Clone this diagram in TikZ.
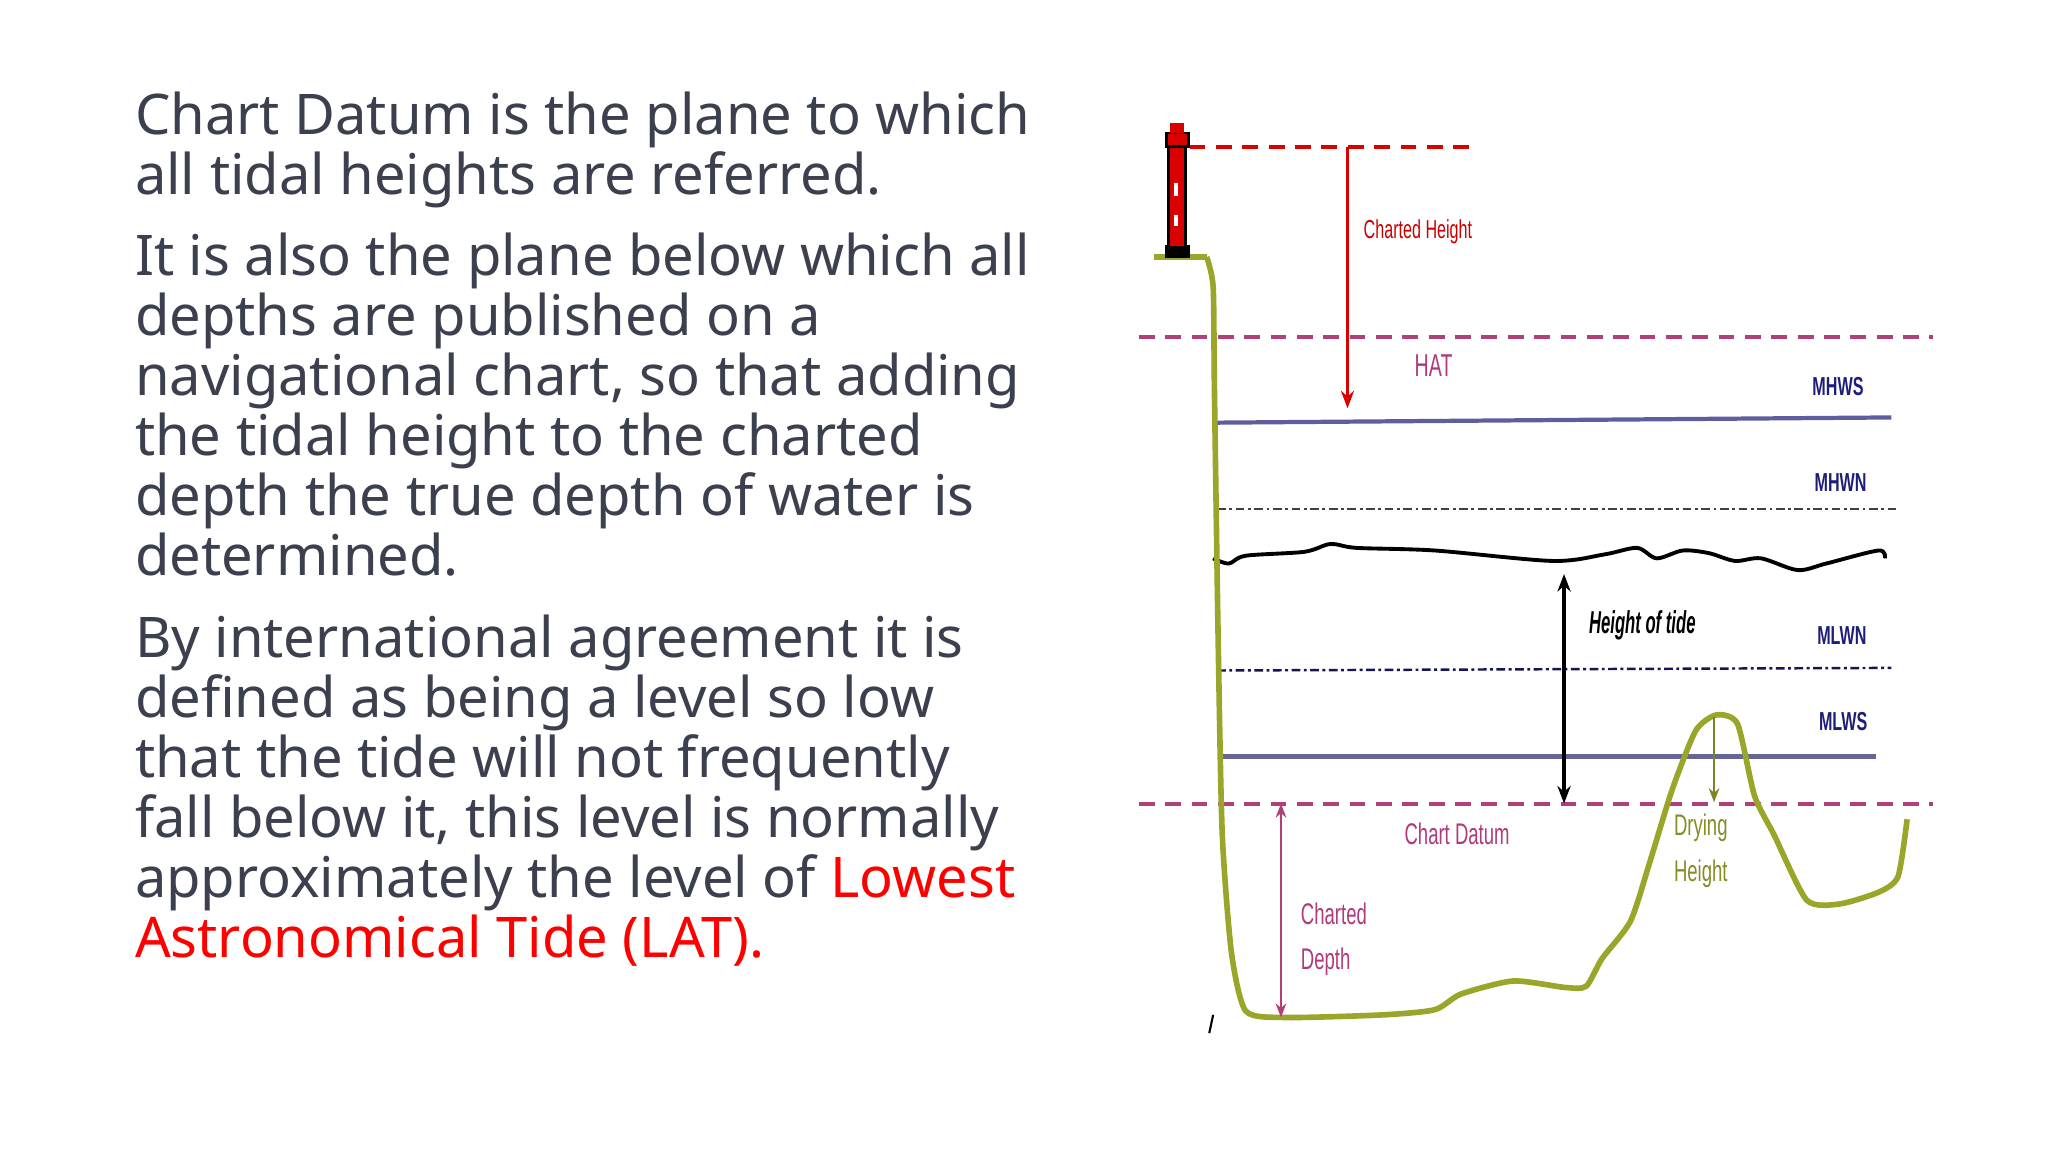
\documentclass[tikz,border=0pt]{standalone}
\usepackage{fontspec}
\setmainfont{Noto Sans}
\newfontfamily\labfont{Liberation Sans}
\usetikzlibrary{arrows.meta}
\definecolor{txt}{HTML}{3B3F4E}
\definecolor{mag}{HTML}{B0407A}
\definecolor{olv}{HTML}{9AA62A}
\definecolor{nav}{HTML}{1E1E78}
\definecolor{lvl}{HTML}{5E5E9E}
\definecolor{lab}{HTML}{B03A7A}
\tikzset{
 para/.style={anchor=base west,align=left,text=txt,inner sep=0pt,font=\fontsize{15.95}{17.08}\selectfont},
 lbl/.style={font=\labfont\fontsize{7.4}{9.5}\selectfont,transform shape,xscale=0.62,inner sep=0pt},
 blbl/.style={lbl,font=\labfont\bfseries\fontsize{7.4}{9.5}\selectfont,text=nav},
 dline/.style={mag,line width=1.1pt,dash pattern=on 4.5pt off 3pt},
 ddot/.style={line width=0.7pt,dash pattern=on 2.5pt off 1pt on 0.8pt off 1pt},
}
\begin{document}
\begin{tikzpicture}[x=0.013045cm,y=-0.013045cm]
\useasboundingbox[fill=white] (0,0) rectangle (1570,883);
% text
\node[para] (p1) at (103,149) {Chart Datum is the plane to which\\all tidal heights are referred.};
\node[para] (p2) at (103,441) {It is also the plane below which all\\depths are published on a\\navigational chart, so that adding\\the tidal height to the charted\\depth the true depth of water is\\determined.};
\node[para] (p3) at (103,734) {By international agreement it is\\defined as being a level so low\\that the tide will not frequently\\fall below it, this level is normally\\approximately the level of \textcolor{red}{Lowest}\\\textcolor{red}{Astronomical Tide (LAT).}};
% levels
\coordinate (tl) at (912,113); \coordinate (tr) at (1128,113);
\draw[red!85!black,line width=1.1pt,dash pattern=on 4.5pt off 3pt] (tl) -- (tr);
\coordinate (hl) at (873,258); \coordinate (hr) at (1482,258);
\draw[dline] (hl) -- (hr);
\coordinate (cl) at (873,616); \coordinate (cr) at (1482,616);
\draw[dline] (cl) -- (cr);
\coordinate (s1) at (933,324); \coordinate (s2) at (1450,320);
\draw[lvl,line width=1.2pt] (s1) -- (s2);
\coordinate (n1) at (933,390); \coordinate (n2) at (1455,390);
\draw[ddot,black!75] (n1) -- (n2);
\coordinate (w1) at (933,514); \coordinate (w2) at (1450,512);
\draw[ddot,nav!70!black] (w1) -- (w2);
\coordinate (m1) at (937,580); \coordinate (m2) at (1438,580);
\draw[lvl!80!gray,line width=1.2pt] (m1) -- (m2);
% water surface
\draw[black,line width=1.1pt] plot[smooth,tension=0.5] coordinates {(930,428) (942,432) (955,426) (1000,423) (1020,417) (1040,420) (1100,422) (1190,430) (1230,425) (1255,420) (1270,428) (1290,422) (1310,424) (1330,430) (1350,428) (1378,437) (1400,432) (1440,422) (1445,428)};
% seabed
\draw[olv,line width=1.6pt] plot[smooth,tension=0.4] coordinates {(925,197) (930,220) (931,300) (934,500) (937,640) (944,730) (955,775) (985,780) (1060,778) (1100,774) (1120,762) (1160,752) (1200,757) (1216,756) (1228,735) (1250,706) (1265,660) (1282,605) (1300,560) (1316,548) (1332,555) (1345,610) (1360,640) (1385,690) (1410,693) (1440,684) (1455,672) (1462,628)};
\draw[olv,line width=1.6pt] (885,197) -- (925,197);
% lighthouse
\fill[black] (893,188) rectangle (912,198);
\draw[black,fill=red!85!black,line width=0.8pt] (896,112) rectangle (909,190);
\fill[white] (900,140) rectangle (903,150); \fill[white] (900,165) rectangle (903,173);
\draw[black,fill=red!85!black,line width=0.8pt] (894,102) rectangle (911,112);
\fill[red!85!black] (897,94) rectangle (908,102);
% arrows
\coordinate (ch1) at (1033,113); \coordinate (ch2) at (1033,313);
\draw[red!85!black,line width=0.7pt,-{Stealth[length=5pt]}] (ch1) -- (ch2);
\coordinate (ht1) at (1199,440); \coordinate (ht2) at (1199,616);
\draw[black,line width=0.9pt,{Stealth[length=5pt]}-{Stealth[length=5pt]}] (ht1) -- (ht2);
\coordinate (cd1) at (982,616); \coordinate (cd2) at (982,780);
\draw[mag,line width=0.7pt,{Stealth[length=4pt]}-{Stealth[length=4pt]}] (cd1) -- (cd2);
\coordinate (dh1) at (1314,550); \coordinate (dh2) at (1314,615);
\draw[olv!80!black,line width=0.8pt,-{Stealth[length=4pt]}] (dh1) -- (dh2);
\draw[black,line width=0.6pt] (927,792) -- (930,778);
% labels
\node[lbl,text=red!80!black] (lch) at (1087,178) {Charted Height};
\node[lbl,text=lab,font=\labfont\fontsize{9}{10}\selectfont] (lhat) at (1099,280) {HAT};
\node[blbl] (lmhws) at (1409,296) {MHWS};
\node[blbl] (lmhwn) at (1411,370) {MHWN};
\node[lbl,font=\labfont\itshape\bfseries\fontsize{9}{10}\selectfont,xscale=0.85] (lhot) at (1259,479) {Height of tide};
\node[blbl] (lmlwn) at (1412,487) {MLWN};
\node[blbl] (lmlws) at (1413,553) {MLWS};
\node[lbl,text=lab,font=\labfont\fontsize{8.5}{10}\selectfont] (lcd) at (1117,639) {Chart Datum};
\node[lbl,text=lab,align=left,font=\labfont\fontsize{8.5}{13}\selectfont,anchor=west] (ldep) at (997,720) {Charted\\Depth};
\node[lbl,text=olv!85!black,align=left,font=\labfont\fontsize{8.5}{13}\selectfont,anchor=west] (ldry) at (1283,652) {Drying\\Height};
\end{tikzpicture}
\end{document}
